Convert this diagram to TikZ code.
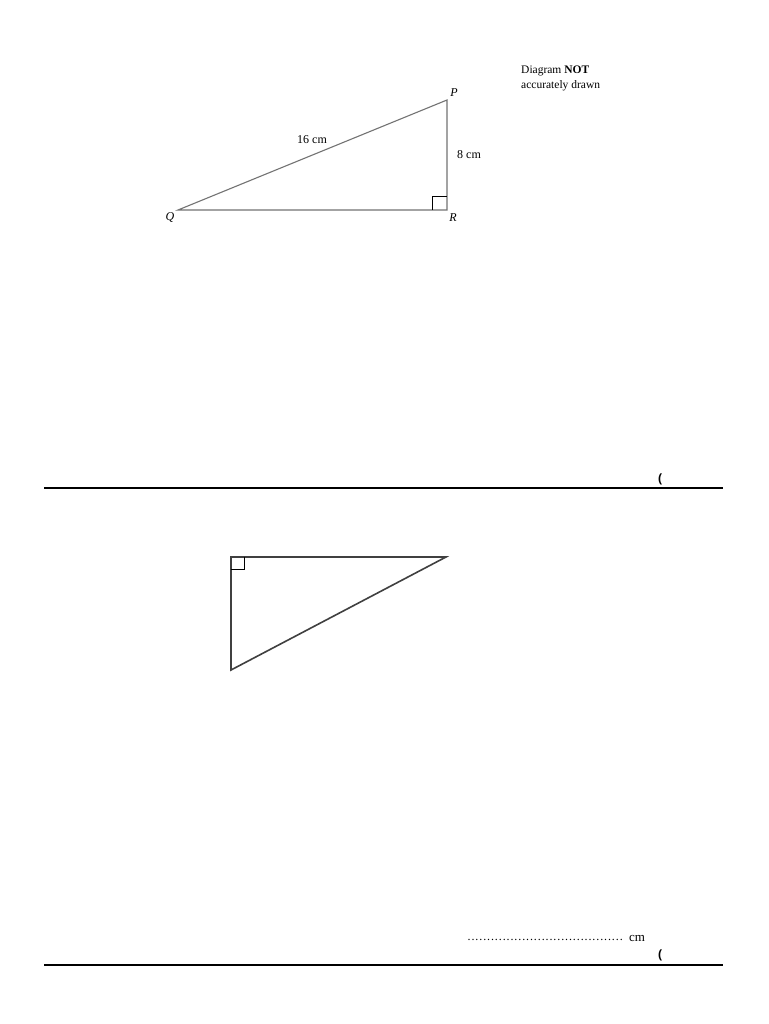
\documentclass[tikz,border=0pt]{standalone}
\usepackage{fontspec}
\setmainfont{Liberation Serif}
\newfontfamily\parenfont{Liberation Sans}
\begin{document}
\begin{tikzpicture}[x=1pt,y=-1pt,
  lbl/.style={inner sep=0pt,font=\fontsize{12}{14}\selectfont},
  note/.style={inner sep=0pt,font=\fontsize{11.5}{14}\selectfont},
  tri1/.style={draw=black!55,line width=1.1pt},
  tri2/.style={draw=black!75,line width=1.6pt,line join=miter},
  rule/.style={draw=black,line width=1.4pt},
  par/.style={inner sep=0pt,font=\parenfont\bfseries\fontsize{12}{14}\selectfont}]
\useasboundingbox[fill=white] (0,0) rectangle (768,1024);
% first triangle
\coordinate (Q) at (178,210);
\coordinate (R) at (447,210);
\coordinate (P) at (447,100);
\draw[tri1] (Q) -- (R) -- (P) -- cycle;
\draw[black,line width=0.8pt] (432,210) -- (432,196) -- (447,196);
\node[lbl] (lP) at (454,93) {\itshape P};
\node[lbl] (lQ) at (170,218) {\itshape Q};
\node[lbl] (lR) at (453,218) {\itshape R};
\node[lbl] (l16) at (312,140) {16 cm};
\node[lbl] (l8) at (469,155) {8 cm};
\node[note,anchor=west] (d1) at (521,71) {Diagram \textbf{NOT}};
\node[note,anchor=west] (d2) at (521,86) {accurately drawn};
% first answer line
\draw[rule] (44,488) -- (723,488);
\node[par] (p1) at (660,479) {(};
% second triangle
\coordinate (A) at (231,557);
\coordinate (B) at (446,557);
\coordinate (C) at (231,670);
\draw[tri2] (A) -- (B) -- (C) -- cycle;
\draw[black,line width=0.8pt] (231,569) -- (244,569) -- (244,557);
% answer
\node[lbl,anchor=west] (dots) at (467,940) {\makebox[158pt]{\leaders\hbox to 3.9pt{\hss.\hss}\hfill}};
\node[lbl,anchor=west,font=\fontsize{13}{15}\selectfont] (cm) at (629,938) {cm};
\draw[rule] (44,965) -- (723,965);
\node[par] (p2) at (660,955) {(};
\end{tikzpicture}
\end{document}
